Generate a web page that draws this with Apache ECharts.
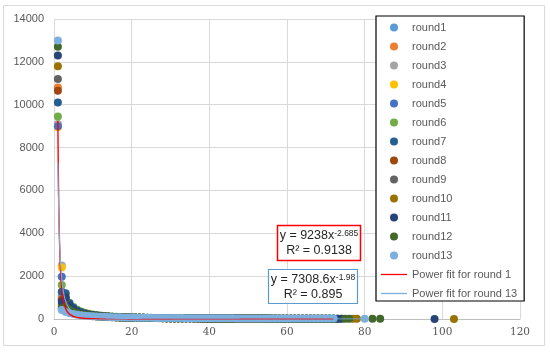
<!DOCTYPE html>
<html>
<head>
<meta charset="utf-8">
<script src="https://cdn.jsdelivr.net/npm/echarts@6/dist/echarts.min.js"></script>
<style>html,body{margin:0;padding:0;background:#fff;}#c{width:550px;height:352px;}</style>
</head>
<body>
<div id="c"></div>
<script>
// ---- data (values for x = 1, 2, 3, ...) ----
const round1 = [9000,1050,620,430,330,260,215,180,155,135,120,108,98,90,83,77,72,67,63,60,57,54,51,49,47,45,43,41,40,38,37,36,35,34,33,32,31,30,29,28,28,27,26,26,25,24,24,23,23,22,22,21,21,20,20,19,19,18,18,17,17,17,16,16,15,15,15,14,14,14,13,13];
const round2 = [10800,950,560,400,300,240,200,170,148,130,116,104,95,87,80,74,69,65,61,57,54,51,49,46,44,42,40,39,37,36,34,33,32,31,30,29,28,27,27,26,25,24,24,23,22,22,21,21,20,20,19,19,18,18,17,17,16,16,16,15,15,14,14,14,13,13,13,12,12,12];
const round3 = [9100,2500,900,560,400,310,250,205,175,150,132,118,106,96,88,81,75,70,65,61,58,55,52,49,47,45,43,41,39,38,36,35,34,33,32,31,30,29,28,27,26,26,25,24,24,23,22,22,21,21,20,20,19,19,18,18,17,17,17,16,16,15,15,15,14];
const round4 = [8950,2400,1150,700,480,360,290,240,200,172,150,133,119,107,97,89,82,76,71,66,62,58,55,52,50,47,45,43,41,39,38,36,35,34,33,32,31,30,29,28,27,26,25,25,24,23,23,22,21,21,20,20,19,19,18,18,17,17,16,16,16,15,15,14,14,14,13,13];
const round5 = [9000,1975,1000,640,450,345,280,230,195,168,147,130,116,105,96,88,81,75,70,65,61,58,55,52,49,47,45,43,41,39,38,36,35,34,33,32,31,30,29,28,27,26,26,25,24,24,23,22,22,21,21,20,20,19,19,18,18,17,17,17,16,16,15,15,15,14,14,14,13,13,13];
const round6 = [9450,1590,980,700,560,430,350,290,245,210,182,160,142,127,115,104,95,87,80,74,69,65,61,57,54,51,48,46,44,42,40,38,37,35,34,33,32,31,30,29,28,27,26,26,25,24,24,23,22,22,21,21,20,20,19,19,18,18,17,17,17,16,16,15,15,15,14,14,14,13,13,13,12,12];
const round7 = [10100,1270,1200,750,520,390,310,255,215,185,160,141,125,112,101,92,85,78,72,67,63,59,56,53,50,47,45,43,41,39,37,36,35,33,32,31,30,29,28,27,26,26,25,24,23,23,22,22,21,20,20,19,19,18,18,18,17,17,16,16,16,15,15,15,14,14,14,13,13,13,12,12];
const round8 = [10650,900,820,560,420,330,270,225,192,166,145,128,115,104,94,86,79,73,68,64,60,56,53,50,48,45,43,41,39,38,36,35,33,32,31,30,29,28,27,26,26,25,24,23,23,22,21,21,20,20,19,19,18,18,17,17,17,16,16,15,15,15,14,14,14,13,13,13,12];
const round9 = [11200,700,650,470,360,290,240,204,176,153,135,120,108,98,89,82,76,70,65,61,57,54,51,48,46,44,42,40,38,37,35,34,33,32,31,30,29,28,27,26,25,25,24,23,23,22,21,21,20,20,19,19,18,18,17,17,17,16,16,15,15,15,14,14,14,13,13,13,12,12,12,11,11];
const round10 = [11800,600,700,520,400,320,265,222,190,165,145,129,115,104,95,87,80,74,69,64,60,57,54,51,48,46,44,42,40,38,37,35,34,33,32,31,30,29,28,27,26,25,25,24,23,22,22,21,21,20,20,19,19,18,18,17,17,16,16,16,15,15,15,14,14,13,13,13,13,12,12,12];
const round11 = [12300,800,1000,640,460,355,285,236,200,172,150,132,118,106,96,88,81,75,69,65,61,57,54,51,48,46,44,42,40,38,37,35,34,33,32,31,30,29,28,27,26,25,25,24,23,23,22,21,21,20,20,19,19,18,18,17,17,17,16,16,15,15,15,14,14,14,13,13,13,12,12,12,11,11];
const round12 = [12700,500,560,430,340,280,235,200,173,151,134,119,107,97,89,82,75,70,65,61,57,54,51,48,46,43,41,40,38,36,35,34,32,31,30,29,28,27,27,26,25,24,24,23,22,22,21,21,20,20,19,19,18,18,17,17,17,16,16,15,15,15,14,14,14,13,13,13,12,12,12,11];
const round13 = [13000,420,330,270,230,200,176,157,141,128,117,108,100,93,87,82,77,73,69,66,63,60,58,55,53,51,49,48,46,45,43,42,41,40,39,38,37,36,35,34,34,33,32,31,31,30,29,29,28,28,27,27,26,26,25,25,24,24,24,23,23,22,22,22,21,21,21,20,20,20,19,19];
// isolated far points [x, y]
const round10Extra = [[77,8],[78,8],[103,5]];
const round11Extra = [[98,5]];
const round12Extra = [[75,8],[76,8],[82,6],[84,6]];
const round13Extra = [[80,8]];

const seriesNames = ['round1','round2','round3','round4','round5','round6','round7','round8','round9','round10','round11','round12','round13'];
const seriesValues = [round1,round2,round3,round4,round5,round6,round7,round8,round9,round10,round11,round12,round13];
const seriesExtras = [[],[],[],[],[],[],[],[],[],round10Extra,round11Extra,round12Extra,round13Extra];
const colors = ['#5B9BD5','#ED7D31','#A5A5A5','#FFC000','#4472C4','#70AD47','#255E91','#9E480E','#636363','#997300','#264478','#43682B','#7CAFDD'];

// power-law trendlines shown on the chart: y = a * x^b
const fitNames = ['Power fit for round 1','Power fit for round 13'];
const fitA = [9238, 7308.6];
const fitB = [-2.685, -1.98];
const fitXMax = [72, 80];
const fitColors = ['#FF0000','#7CAFDD'];

const xMin = 0, xMax = 120, xStep = 20;
const yMin = 0, yMax = 14000, yStep = 2000;

const chart = echarts.init(document.getElementById('c'), null, {renderer:'canvas'});

const series = [];
seriesNames.forEach((n,i)=>{
  const data = seriesValues[i].map((v,j)=>[j+1, v]).concat(seriesExtras[i]);
  series.push({
    name:n, type:'scatter', data:data, symbol:'circle', symbolSize:8,
    itemStyle:{color:colors[i], opacity:1}, z:2, animation:false
  });
});
fitNames.forEach((n,i)=>{
  const pts = [];
  for (let k = 0; k <= (fitXMax[i]-1)*20; k++) {
    const x = 1 + k/20;
    pts.push([x, fitA[i]*Math.pow(x, fitB[i])]);
  }
  series.push({
    name:n, type:'line', data:pts, symbol:'none', showSymbol:false, smooth:false,
    lineStyle:{color:fitColors[i], width: i===0 ? 1.4 : 1.1},
    itemStyle:{color:fitColors[i]}, z:3, animation:false
  });
});

const lineIcon = 'path://M0,0H26V1.3H0Z';
const legendData = seriesNames.map(n=>({name:n, icon:'circle'}))
  .concat(fitNames.map(n=>({name:n, icon:lineIcon})));

const textFont = 'Liberation Sans';
const option = {
  backgroundColor:'#ffffff',
  animation:false,
  grid:{left:54, right:30, top:19, bottom:33, containLabel:false},
  xAxis:{
    type:'value', min:xMin, max:xMax, interval:xStep,
    axisLine:{show:true, lineStyle:{color:'#BFBFBF', width:1}},
    axisTick:{show:false},
    splitLine:{show:true, lineStyle:{color:'#D9D9D9', width:1}},
    axisLabel:{color:'#595959', fontFamily:'DejaVu Serif', fontSize:10.5, margin:8}
  },
  yAxis:{
    type:'value', min:yMin, max:yMax, interval:yStep,
    axisLine:{show:false},
    axisTick:{show:false},
    splitLine:{show:true, lineStyle:{color:'#D9D9D9', width:1}},
    axisLabel:{color:'#595959', fontFamily:textFont, fontSize:11, margin:10,
      formatter:(v)=>String(v)}
  },
  legend:{
    orient:'vertical', left:376, top:16, height:300,
    itemWidth:26, itemHeight:8, itemGap:8,
    padding:[6,7,2,5],
    borderColor:'#000000', borderWidth:1.2, backgroundColor:'#ffffff',
    textStyle:{fontFamily:textFont, fontSize:11, color:'#595959'},
    data: legendData,
    z:10
  },
  graphic:[
    {type:'rect', z:-10, silent:true, shape:{x:3.5, y:5.5, width:541, height:340},
      style:{fill:'none', stroke:'#D9D9D9', lineWidth:1}},
    {type:'rect', z:20, shape:{x:277.5, y:225.5, width:83, height:35},
      style:{fill:'#ffffff', stroke:'#FF0000', lineWidth:1.5}},
    {type:'text', z:21, x:319, y:236,
      style:{text:'{b|y = 9238x}{s|-2.685}', align:'center', verticalAlign:'middle',
        rich:{b:{fontFamily:textFont, fontSize:12.5, fill:'#262626'}, s:{fontFamily:textFont, fontSize:8.5, fill:'#262626', verticalAlign:'top'}}}},
    {type:'text', z:21, x:319, y:251,
      style:{text:'R² = 0.9138', align:'center', verticalAlign:'middle', fontFamily:textFont, fontSize:12.5, fill:'#262626'}},
    {type:'rect', z:20, shape:{x:268.5, y:269.5, width:89, height:34},
      style:{fill:'#ffffff', stroke:'#5B9BD5', lineWidth:1.2}},
    {type:'text', z:21, x:313, y:280,
      style:{text:'{b|y = 7308.6x}{s|-1.98}', align:'center', verticalAlign:'middle',
        rich:{b:{fontFamily:textFont, fontSize:12.5, fill:'#262626'}, s:{fontFamily:textFont, fontSize:8.5, fill:'#262626', verticalAlign:'top'}}}},
    {type:'text', z:21, x:313, y:295,
      style:{text:'R² = 0.895', align:'center', verticalAlign:'middle', fontFamily:textFont, fontSize:12.5, fill:'#262626'}}
  ],
  series: series
};
chart.setOption(option);
</script>
</body>
</html>
